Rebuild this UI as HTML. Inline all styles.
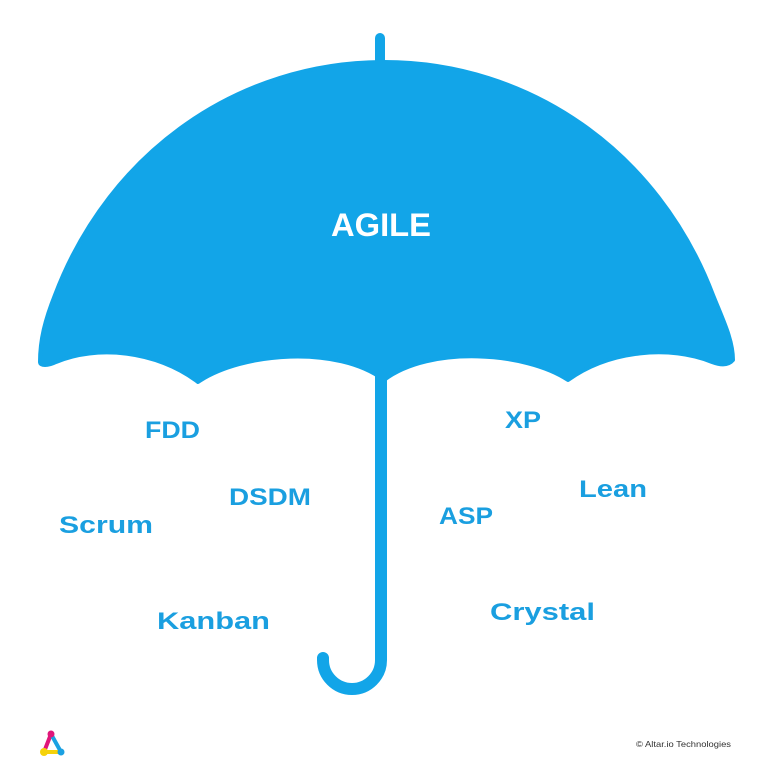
<!DOCTYPE html>
<html><head><style>
body{margin:0;width:768px;height:776px;background:#fff;overflow:hidden}
svg{display:block}
text{font-family:"Liberation Sans",sans-serif;font-weight:bold}
</style></head><body>
<svg width="768" height="776" viewBox="0 0 768 776">
<line x1="380" y1="38" x2="380" y2="66" stroke="#12a5e8" stroke-width="10" stroke-linecap="round"/>
<path d="M40,362 C40,340 45,320 55,295 C110,150 240,62 384,62 C528,62 658,150 713,295 C723,320 733,340 733,360 C728,366 720,365 712,362 C670,345 610,350 568,380 C526,352 430,345 384,380 C338,345 242,352 198,382 C156,350 96,345 56,362 C48,366 40,366 40,362 Z" fill="#12a5e8" stroke="#12a5e8" stroke-width="4" stroke-linejoin="round"/>
<path d="M381,375 L381,660 A29,29 0 0 1 323,660 L323,658" fill="none" stroke="#12a5e8" stroke-width="12" stroke-linecap="round"/>
<text x="331" y="236" font-size="32" fill="#fff" textLength="100" lengthAdjust="spacingAndGlyphs">AGILE</text>
<g fill="#1a9fe0" font-size="24">
<text x="145" y="438" textLength="55" lengthAdjust="spacingAndGlyphs">FDD</text>
<text x="229" y="505" textLength="82" lengthAdjust="spacingAndGlyphs">DSDM</text>
<text x="59" y="533" textLength="94" lengthAdjust="spacingAndGlyphs">Scrum</text>
<text x="157" y="629" textLength="113" lengthAdjust="spacingAndGlyphs">Kanban</text>
<text x="505" y="428" textLength="36" lengthAdjust="spacingAndGlyphs">XP</text>
<text x="579" y="497" textLength="68" lengthAdjust="spacingAndGlyphs">Lean</text>
<text x="439" y="524" textLength="54" lengthAdjust="spacingAndGlyphs">ASP</text>
<text x="490" y="620" textLength="105" lengthAdjust="spacingAndGlyphs">Crystal</text>
</g>
<g stroke-width="4" stroke-linecap="round">
<line x1="51" y1="734" x2="44" y2="752" stroke="#e0177a"/>
<line x1="51" y1="734" x2="61" y2="752" stroke="#1ba1e2"/>
<line x1="44" y1="752" x2="61" y2="752" stroke="#f5d20a"/>
</g>
<circle cx="51" cy="734" r="3.5" fill="#e0177a"/>
<circle cx="44" cy="752" r="4" fill="#f5d20a"/>
<circle cx="61" cy="752" r="3.5" fill="#1ba1e2"/>
<text x="636" y="747" font-size="8.5" fill="#333" style="font-weight:normal" textLength="95" lengthAdjust="spacingAndGlyphs">© Altar.io Technologies</text>
</svg>
</body></html>
